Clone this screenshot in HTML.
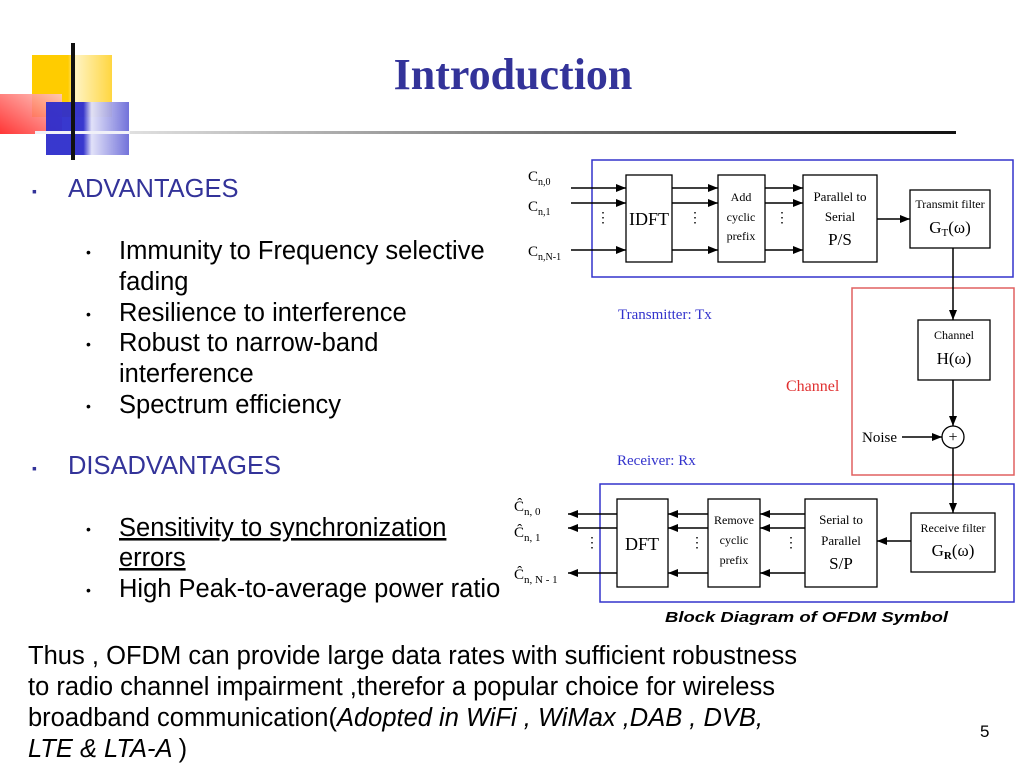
<!DOCTYPE html>
<html><head><meta charset="utf-8"><style>
html,body{margin:0;padding:0;background:#fff;}
svg{display:block}
.s{font-family:"Liberation Sans",sans-serif;font-size:25.5px;fill:#000}
.b{font-family:"Liberation Sans",sans-serif;font-size:25.5px;fill:#333399}
.d{font-family:"Liberation Serif",serif;fill:#000}
</style></head><body>
<svg width="1024" height="768" viewBox="0 0 1024 768" xmlns="http://www.w3.org/2000/svg">
<defs>
<linearGradient id="yg" x1="0" x2="1"><stop offset="0" stop-color="#ffcc00"/><stop offset="0.45" stop-color="#ffcc00"/><stop offset="0.55" stop-color="#fff3c0"/><stop offset="1" stop-color="#ffd640"/></linearGradient>
<linearGradient id="rg" x1="0" y1="1" x2="1" y2="0"><stop offset="0" stop-color="#ff2020"/><stop offset="1" stop-color="#ffc8c0"/></linearGradient>
<linearGradient id="bg" x1="0" x2="1"><stop offset="0" stop-color="#2d2dcc"/><stop offset="0.45" stop-color="#2d2dcc"/><stop offset="0.55" stop-color="#e0e0f8"/><stop offset="1" stop-color="#6b6bd8"/></linearGradient>
<linearGradient id="lg" x1="0" x2="1"><stop offset="0" stop-color="#e0e0e0"/><stop offset="0.5" stop-color="#777"/><stop offset="1" stop-color="#111"/></linearGradient>
<marker id="a" markerWidth="10" markerHeight="8" refX="10" refY="4" orient="auto" markerUnits="userSpaceOnUse"><path d="M0,0 L10,4 L0,8 z" fill="#000"/></marker>
</defs>
<rect x="32" y="55" width="80" height="62" fill="url(#yg)"/>
<rect x="0" y="94" width="62" height="40" fill="url(#rg)" opacity="0.9"/>
<rect x="46" y="102" width="83" height="53" fill="url(#bg)" opacity="0.95"/>
<rect x="35" y="131" width="95" height="3" fill="#f0f0f8"/>
<rect x="130" y="131" width="826" height="3" fill="url(#lg)"/>
<rect x="71" y="43" width="4" height="117" fill="#111"/>
<text x="513" y="89" text-anchor="middle" font-family="Liberation Serif,serif" font-weight="bold" font-size="44" fill="#333399">Introduction</text>

<g class="b"><text x="32" y="196" font-size="14">▪</text><text x="68" y="197">ADVANTAGES</text>
<text x="32" y="473" font-size="14">▪</text><text x="68" y="474">DISADVANTAGES</text></g>
<g class="s">
<text x="86" y="257" font-size="14">•</text><text x="119" y="259">Immunity to Frequency selective</text>
<text x="119" y="290">fading</text>
<text x="86" y="319" font-size="14">•</text><text x="119" y="321">Resilience to interference</text>
<text x="86" y="349" font-size="14">•</text><text x="119" y="351">Robust to narrow-band</text>
<text x="119" y="382">interference</text>
<text x="86" y="411" font-size="14">•</text><text x="119" y="413">Spectrum efficiency</text>
<text x="86" y="534" font-size="14">•</text><text x="119" y="536" text-decoration="underline">Sensitivity to synchronization</text>
<text x="119" y="566" text-decoration="underline">errors</text>
<text x="86" y="595" font-size="14">•</text><text x="119" y="597">High Peak-to-average power ratio</text>
</g>
<g class="s">
<text x="28" y="664" textLength="769" lengthAdjust="spacingAndGlyphs">Thus , OFDM can provide large data rates with sufficient robustness</text>
<text x="28" y="695" textLength="747" lengthAdjust="spacingAndGlyphs">to radio channel impairment ,therefor a popular choice for wireless</text>
<text x="28" y="726" textLength="735" lengthAdjust="spacingAndGlyphs">broadband communication(<tspan font-style="italic">Adopted in WiFi , WiMax ,DAB , DVB,</tspan></text>
<text x="28" y="757"><tspan font-style="italic">LTE &amp; LTA-A </tspan>)</text>
</g>
<text x="980" y="737" font-family="Liberation Sans,sans-serif" font-size="17">5</text>

<g fill="none" stroke-width="1.5">
<rect x="592" y="160" width="421" height="117" stroke="#3333cc"/>
<rect x="852" y="288" width="162" height="187" stroke="#e06060"/>
<rect x="600" y="484" width="414" height="118" stroke="#3333cc"/>
</g>
<g fill="#fff" stroke="#000" stroke-width="1.3">
<rect x="626" y="175" width="46" height="87"/>
<rect x="718" y="175" width="47" height="87"/>
<rect x="803" y="175" width="74" height="87"/>
<rect x="910" y="190" width="80" height="58"/>
<rect x="918" y="320" width="72" height="60"/>
<circle cx="953" cy="437" r="11"/>
<rect x="617" y="499" width="51" height="88"/>
<rect x="708" y="499" width="52" height="88"/>
<rect x="805" y="499" width="72" height="88"/>
<rect x="911" y="513" width="84" height="59"/>
</g>
<g stroke="#000" stroke-width="1.5" marker-end="url(#a)">
<line x1="571" y1="188" x2="626" y2="188"/><line x1="571" y1="203" x2="626" y2="203"/><line x1="571" y1="250" x2="626" y2="250"/>
<line x1="672" y1="188" x2="718" y2="188"/><line x1="672" y1="203" x2="718" y2="203"/><line x1="672" y1="250" x2="718" y2="250"/>
<line x1="765" y1="188" x2="803" y2="188"/><line x1="765" y1="203" x2="803" y2="203"/><line x1="765" y1="250" x2="803" y2="250"/>
<line x1="877" y1="219" x2="910" y2="219"/>
<line x1="953" y1="248" x2="953" y2="320"/>
<line x1="953" y1="380" x2="953" y2="426"/>
<line x1="902" y1="437" x2="942" y2="437"/>
<line x1="953" y1="448" x2="953" y2="513"/>
<line x1="911" y1="541" x2="877" y2="541"/>
<line x1="805" y1="514" x2="760" y2="514"/><line x1="805" y1="528" x2="760" y2="528"/><line x1="805" y1="573" x2="760" y2="573"/>
<line x1="708" y1="514" x2="668" y2="514"/><line x1="708" y1="528" x2="668" y2="528"/><line x1="708" y1="573" x2="668" y2="573"/>
<line x1="617" y1="514" x2="568" y2="514"/><line x1="617" y1="528" x2="568" y2="528"/><line x1="617" y1="573" x2="568" y2="573"/>
</g>
<g font-family="Liberation Serif,serif" font-size="14" fill="#000" text-anchor="middle">
<text x="603" y="222">⋮</text><text x="695" y="222">⋮</text><text x="782" y="222">⋮</text>
<text x="592" y="547">⋮</text><text x="697" y="547">⋮</text><text x="791" y="547">⋮</text>
<text x="953" y="442" font-size="16">+</text>
</g>
<g class="d" text-anchor="middle">
<text x="649" y="225" font-size="18">IDFT</text>
<text x="741" y="201" font-size="12">Add</text><text x="741" y="221" font-size="12">cyclic</text><text x="741" y="240" font-size="12">prefix</text>
<text x="840" y="201" font-size="13">Parallel to</text><text x="840" y="221" font-size="13">Serial</text><text x="840" y="245" font-size="17">P/S</text>
<text x="950" y="208" font-size="12">Transmit filter</text><text x="950" y="233" font-size="17">G<tspan font-size="11" dy="3">T</tspan><tspan dy="-3">(ω)</tspan></text>
<text x="954" y="339" font-size="12">Channel</text><text x="954" y="364" font-size="17">H(ω)</text>
<text x="642" y="550" font-size="18">DFT</text>
<text x="734" y="524" font-size="12">Remove</text><text x="734" y="544" font-size="12">cyclic</text><text x="734" y="564" font-size="12">prefix</text>
<text x="841" y="524" font-size="13">Serial to</text><text x="841" y="545" font-size="13">Parallel</text><text x="841" y="569" font-size="17">S/P</text>
<text x="953" y="532" font-size="12">Receive filter</text><text x="953" y="556" font-size="17">G<tspan font-size="11" dy="3" font-weight="bold">R</tspan><tspan dy="-3">(ω)</tspan></text>
</g>
<g class="d" font-size="15">
<text x="528" y="181">C<tspan font-size="10" dy="4">n,0</tspan></text>
<text x="528" y="211">C<tspan font-size="10" dy="4">n,1</tspan></text>
<text x="528" y="256">C<tspan font-size="10" dy="4">n,N-1</tspan></text>
<text x="514" y="511">Ĉ<tspan font-size="11" dy="4">n, 0</tspan></text>
<text x="514" y="537">Ĉ<tspan font-size="11" dy="4">n, 1</tspan></text>
<text x="514" y="579">Ĉ<tspan font-size="11" dy="4">n, N - 1</tspan></text>
<text x="862" y="442" font-size="15">Noise</text>
<text x="618" y="319" font-size="15" fill="#3333cc">Transmitter: Tx</text>
<text x="786" y="391" font-size="16" fill="#e03030">Channel</text>
<text x="617" y="465" font-size="15" fill="#3333cc">Receiver: Rx</text>
</g>
<text x="665" y="622" font-family="Liberation Sans,sans-serif" font-size="15" font-weight="bold" font-style="italic" textLength="283" lengthAdjust="spacingAndGlyphs">Block Diagram of OFDM Symbol</text>
</svg>
</body></html>
